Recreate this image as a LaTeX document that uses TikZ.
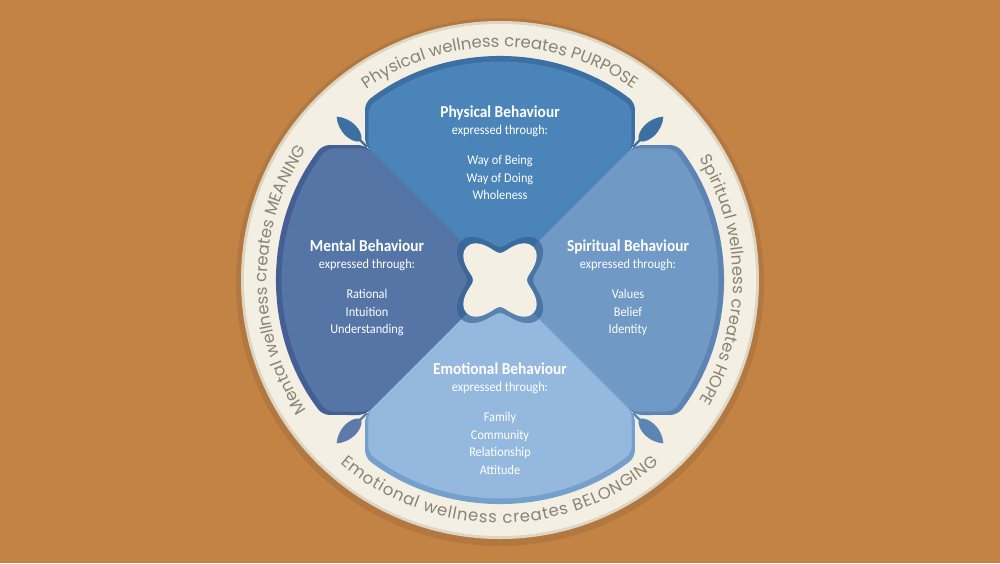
\documentclass[tikz,border=0pt]{standalone}
\usepackage{fontspec}
\setmainfont{Carlito}
\newfontfamily\labelfont[FakeStretch=0.92]{Carlito}
\newfontfamily\ringfont{Poppins}
\usetikzlibrary{positioning,decorations.text}

\definecolor{bgorange}{HTML}{C38345}
\definecolor{ringcream}{HTML}{F3EFE3}
\definecolor{ringrim}{HTML}{DDD6C4}
\definecolor{ringtxt}{HTML}{8A8474}
\definecolor{physblue}{HTML}{4A84B8}
\definecolor{physedge}{HTML}{3C6FA2}
\definecolor{spirblue}{HTML}{7099C5}
\definecolor{spiredge}{HTML}{5C85B5}
\definecolor{emotblue}{HTML}{95B9DE}
\definecolor{emotedge}{HTML}{76A0CC}
\definecolor{mentblue}{HTML}{5675A7}
\definecolor{mentedge}{HTML}{465F93}
\definecolor{crosshalo}{HTML}{2F5C8E}

\newcommand{\ringstyle}{\ringfont\fontsize{9.4}{11}\selectfont\color{ringtxt}}

\tikzset{
  headtxt/.style={font=\labelfont\bfseries\fontsize{9.5}{11}\selectfont, text=white, inner sep=0pt, text height=7pt, text depth=2pt},
  subtxt/.style={font=\labelfont\fontsize{7.6}{9}\selectfont, text=white, inner sep=0pt, text height=5.6pt, text depth=1.6pt},
  listtxt/.style={font=\labelfont\fontsize{7.6}{10}\selectfont, text=white, inner sep=0pt, align=center},
  ringlabel/.style={decorate, decoration={text along path, text align=center, text={|\ringstyle|#1}}},
  ringfit/.style={decorate, decoration={text along path, text align=fit to path, text={|\ringstyle|#1}}}
}

\begin{document}
\begin{tikzpicture}[x=0.2mm, y=0.2mm]
  % canvas
  \fill[bgorange] (-500,-283) rectangle (500,280);
  \useasboundingbox (-500,-283) rectangle (500,280);

  % outer ring
  \fill[black, opacity=0.08] (0,-2) circle (264);
  \fill[ringrim] (0,0) circle (259);
  \fill[ringcream] (0,0) circle (256);

  % four quadrants
  \foreach \rot/\main/\edge in {0/physblue/physedge, -90/spirblue/spiredge, 180/emotblue/emotedge, 90/mentblue/mentedge}{
    \begin{scope}[rotate=\rot]
      \fill[\edge, rounded corners=4pt] (0,0) -- (-135,135) -- (127.25:223) arc[start angle=127.25, end angle=52.75, radius=223] -- (135,135) -- cycle;
      \fill[\main, rounded corners=4pt, scale=0.975] (0,0) -- (-135,135) -- (127.25:223) arc[start angle=127.25, end angle=52.75, radius=223] -- (135,135) -- cycle;
    \end{scope}
  }

  % leaves in the notches
  \foreach \ang/\leafcol in {45/physedge, 135/physedge, 225/mentedge!70!emotblue, 315/spiredge}{
    \begin{scope}[rotate=\ang]
      \draw[\leafcol, line width=1.3pt] (188,0) -- (198,0);
      \fill[\leafcol] (196,0) .. controls (203,10) and (221,9) .. (231,0) .. controls (221,-9) and (203,-10) .. (196,0);
    \end{scope}
  }

  % centre cross
  \fill[crosshalo, opacity=0.6] plot[smooth cycle, domain=0:355, samples=72] (\x:{33+22*sin(2*\x)*sin(2*\x)});
  \fill[ringcream] plot[smooth cycle, domain=0:355, samples=72] (\x:{27+20*sin(2*\x)*sin(2*\x)});

  % ring texts
  \path[ringlabel={Physical wellness creates PURPOSE}] (150:233) arc[start angle=150, end angle=30, radius=233];
  \path[ringlabel={Spiritual wellness creates HOPE}] (60:233) arc[start angle=60, end angle=-60, radius=233];
  \path[ringlabel={Mental wellness creates MEANING}] (240:233) arc[start angle=240, end angle=120, radius=233];
  \path[ringfit={Emotional wellness creates BELONGING}] (229:243) arc[start angle=229, end angle=311, radius=243];

  % quadrant labels
  \node[headtxt] (phys) at (0,167) {Physical Behaviour};
  \node[subtxt, below=1.6pt of phys] (physsub) {expressed through:};
  \node[listtxt, below=10pt of physsub] (physlist) {Way of Being\\Way of Doing\\Wholeness};

  \node[headtxt] (spir) at (128,33) {Spiritual Behaviour};
  \node[subtxt, below=1.6pt of spir] (spirsub) {expressed through:};
  \node[listtxt, below=10pt of spirsub] (spirlist) {Values\\Belief\\Identity};

  \node[headtxt] (emot) at (0,-90) {Emotional Behaviour};
  \node[subtxt, below=1.6pt of emot] (emotsub) {expressed through:};
  \node[listtxt, below=10pt of emotsub] (emotlist) {Family\\Community\\Relationship\\Attitude};

  \node[headtxt] (ment) at (-133,33) {Mental Behaviour};
  \node[subtxt, below=1.6pt of ment] (mentsub) {expressed through:};
  \node[listtxt, below=10pt of mentsub] (mentlist) {Rational\\Intuition\\Understanding};
\end{tikzpicture}
\end{document}
